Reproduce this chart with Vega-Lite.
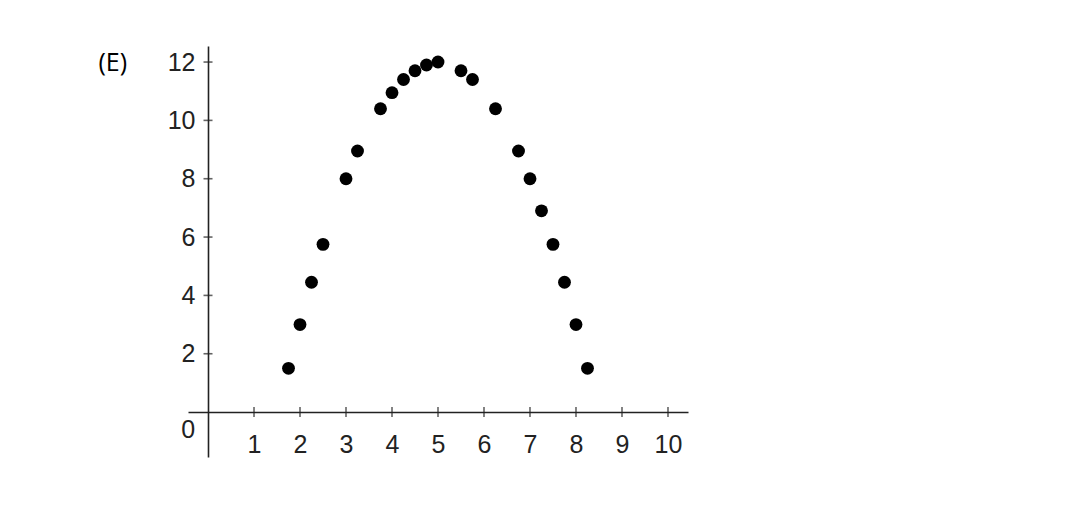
{
  "$schema": "https://vega.github.io/schema/vega-lite/v6.json",
  "autosize": "none",
  "padding": {"left": 188, "top": 46, "right": 388, "bottom": 61},
  "width": 500,
  "height": 411,
  "background": "white",
  "config": {"view": {"stroke": null}},
  "datasets": {
    "points": [
      {"x": 1.75, "y": 1.5},
      {"x": 2.0, "y": 3.0},
      {"x": 2.25, "y": 4.45},
      {"x": 2.5, "y": 5.75},
      {"x": 3.0, "y": 8.0},
      {"x": 3.25, "y": 8.95},
      {"x": 3.75, "y": 10.4},
      {"x": 4.0, "y": 10.95},
      {"x": 4.25, "y": 11.4},
      {"x": 4.5, "y": 11.7},
      {"x": 4.75, "y": 11.9},
      {"x": 5.0, "y": 12.0},
      {"x": 5.5, "y": 11.7},
      {"x": 5.75, "y": 11.4},
      {"x": 6.25, "y": 10.4},
      {"x": 6.75, "y": 8.95},
      {"x": 7.0, "y": 8.0},
      {"x": 7.25, "y": 6.9},
      {"x": 7.5, "y": 5.75},
      {"x": 7.75, "y": 4.45},
      {"x": 8.0, "y": 3.0},
      {"x": 8.25, "y": 1.5}
    ],
    "xticks": [{"v": 1}, {"v": 2}, {"v": 3}, {"v": 4}, {"v": 5}, {"v": 6}, {"v": 7}, {"v": 8}, {"v": 9}, {"v": 10}],
    "yticks": [{"v": 2}, {"v": 4}, {"v": 6}, {"v": 8}, {"v": 10}, {"v": 12}],
    "labels": [
      {"t": "(E)", "x": -2.07, "y": 11.96}
    ],
    "origin": [
      {"t": "0", "x": -0.43, "y": -0.6}
    ]
  },
  "layer": [
    {
      "data": {"name": "points"},
      "mark": {"type": "circle", "color": "black", "opacity": 1, "size": 165},
      "encoding": {
        "x": {
          "field": "x", "type": "quantitative",
          "scale": {"domain": [-0.435, 10.435], "nice": false, "zero": false},
          "axis": {
            "orient": "bottom", "offset": -45, "title": null,
            "values": [1, 2, 3, 4, 5, 6, 7, 8, 9, 10],
            "grid": false, "ticks": false, "tickSize": 0,
            "domainColor": "#222", "domainWidth": 1.6,
            "labelFont": "Liberation Sans", "labelFontSize": 25, "labelColor": "#222",
            "labelPadding": 20, "labelBaseline": "top"
          }
        },
        "y": {
          "field": "y", "type": "quantitative",
          "scale": {"domain": [-1.54, 12.55], "nice": false, "zero": false},
          "axis": {
            "orient": "left", "offset": -20, "title": null,
            "values": [2, 4, 6, 8, 10, 12],
            "grid": false, "ticks": false, "tickSize": 0,
            "domainColor": "#222", "domainWidth": 1.6,
            "labelFont": "Liberation Sans", "labelFontSize": 25, "labelColor": "#222",
            "labelPadding": 13, "labelBaseline": "middle"
          }
        }
      }
    },
    {
      "data": {"name": "xticks"},
      "mark": {"type": "tick", "orient": "vertical", "size": 10, "thickness": 1.6, "color": "#222"},
      "encoding": {
        "x": {"field": "v", "type": "quantitative"},
        "y": {"datum": 0}
      }
    },
    {
      "data": {"name": "yticks"},
      "mark": {"type": "tick", "orient": "horizontal", "size": 9, "thickness": 1.6, "color": "#222"},
      "encoding": {
        "y": {"field": "v", "type": "quantitative"},
        "x": {"datum": 0}
      }
    },
    {
      "data": {"name": "origin"},
      "mark": {"type": "text", "font": "Liberation Sans", "fontSize": 25, "color": "#222", "align": "center", "baseline": "middle"},
      "encoding": {
        "x": {"field": "x", "type": "quantitative"},
        "y": {"field": "y", "type": "quantitative"},
        "text": {"field": "t"}
      }
    },
    {
      "data": {"name": "labels"},
      "mark": {"type": "text", "font": "Open Sans", "fontSize": 25, "color": "black", "align": "center", "baseline": "middle"},
      "encoding": {
        "x": {"field": "x", "type": "quantitative"},
        "y": {"field": "y", "type": "quantitative"},
        "text": {"field": "t"}
      }
    }
  ]
}
